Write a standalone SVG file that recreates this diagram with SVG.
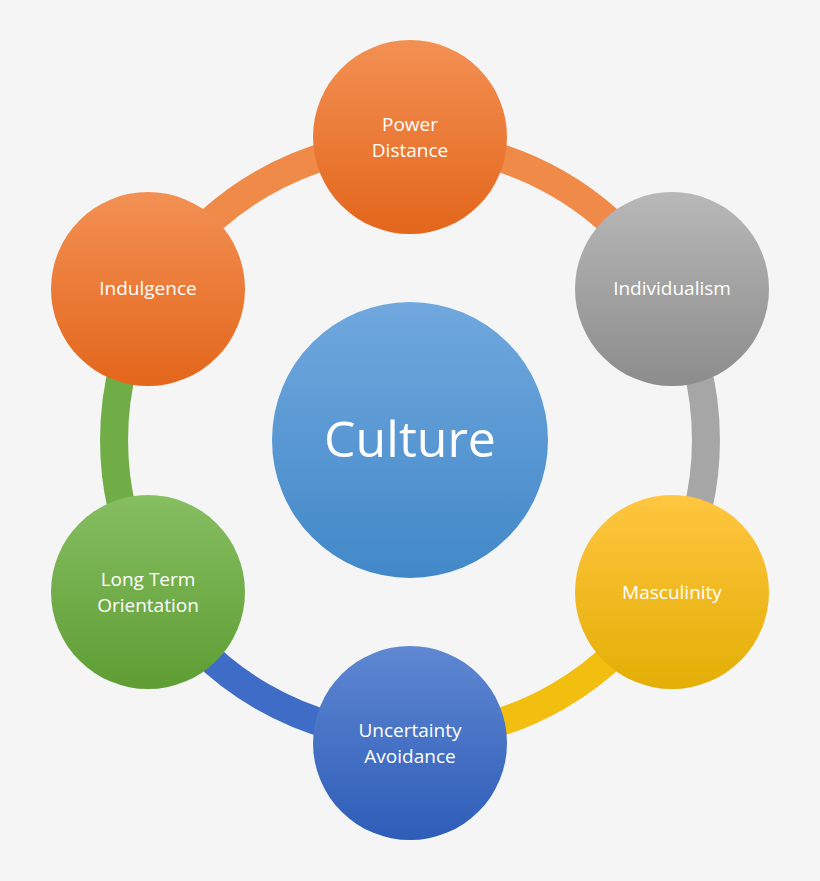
<svg xmlns="http://www.w3.org/2000/svg" width="820" height="881" viewBox="0 0 820 881">
<defs>
<linearGradient id="gO" x1="0" y1="0" x2="0" y2="1"><stop offset="0" stop-color="#F39054"/><stop offset="1" stop-color="#E3661B"/></linearGradient>
<linearGradient id="gG" x1="0" y1="0" x2="0" y2="1"><stop offset="0" stop-color="#B8B8B8"/><stop offset="1" stop-color="#8C8C8C"/></linearGradient>
<linearGradient id="gY" x1="0" y1="0" x2="0" y2="1"><stop offset="0" stop-color="#FFC640"/><stop offset="1" stop-color="#E3AE05"/></linearGradient>
<linearGradient id="gB" x1="0" y1="0" x2="0" y2="1"><stop offset="0" stop-color="#5F87D2"/><stop offset="1" stop-color="#2E5DB8"/></linearGradient>
<linearGradient id="gN" x1="0" y1="0" x2="0" y2="1"><stop offset="0" stop-color="#86BE62"/><stop offset="1" stop-color="#5E9D33"/></linearGradient>
<linearGradient id="gC" x1="0" y1="0" x2="0" y2="1"><stop offset="0" stop-color="#70A8DE"/><stop offset="1" stop-color="#4288C8"/></linearGradient>
</defs>
<style>
.arc{fill:none;stroke-width:28}
.t{font-family:"Open Sans","Liberation Sans",sans-serif;font-size:19px;fill:#fff;text-anchor:middle}
</style>
<rect width="820" height="881" fill="#F5F5F5"/>
<g id="connectors">
<path class="arc" stroke="#F08A48" d="M410 144 A296 296 0 0 1 666.3 292"/>
<path class="arc" stroke="#A6A6A6" d="M666.3 292 A296 296 0 0 1 666.3 588"/>
<path class="arc" stroke="#F2BE10" d="M666.3 588 A296 296 0 0 1 410 736"/>
<path class="arc" stroke="#3F6CC6" d="M410 736 A296 296 0 0 1 153.7 588"/>
<path class="arc" stroke="#70AD47" d="M153.7 588 A296 296 0 0 1 153.7 292"/>
<path class="arc" stroke="#F08A48" d="M153.7 292 A296 296 0 0 1 410 144"/>
</g>
<g id="culture"><circle cx="410" cy="440" r="138" fill="url(#gC)"/><text class="t" x="410" y="457" style="font-size:50px">Culture</text></g>
<g id="power"><circle cx="410" cy="137" r="97" fill="url(#gO)"/><text class="t" x="410" y="131">Power</text><text class="t" x="410" y="157">Distance</text></g>
<g id="individualism"><circle cx="672" cy="289" r="97" fill="url(#gG)"/><text class="t" x="672" y="295">Individualism</text></g>
<g id="masculinity"><circle cx="672" cy="592" r="97" fill="url(#gY)"/><text class="t" x="672" y="599">Masculinity</text></g>
<g id="uncertainty"><circle cx="410" cy="743" r="97" fill="url(#gB)"/><text class="t" x="410" y="737">Uncertainty</text><text class="t" x="410" y="763">Avoidance</text></g>
<g id="longterm"><circle cx="148" cy="592" r="97" fill="url(#gN)"/><text class="t" x="148" y="586">Long Term</text><text class="t" x="148" y="612">Orientation</text></g>
<g id="indulgence"><circle cx="148" cy="289" r="97" fill="url(#gO)"/><text class="t" x="148" y="295">Indulgence</text></g>
</svg>
